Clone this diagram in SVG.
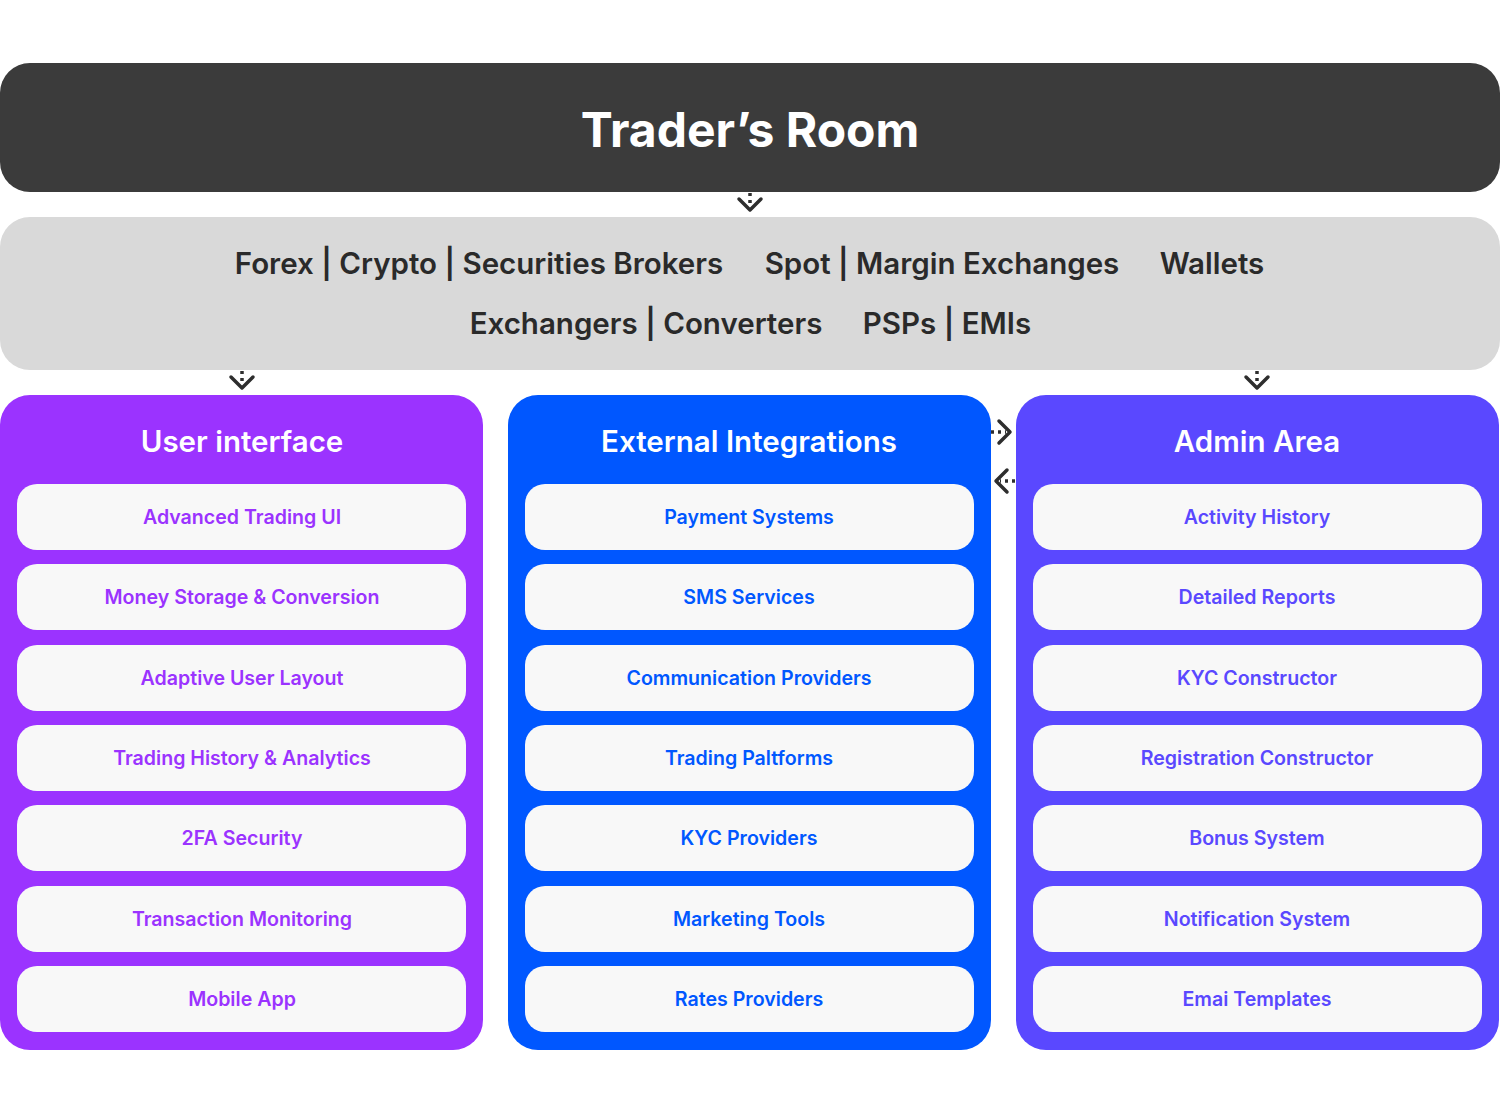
<svg xmlns="http://www.w3.org/2000/svg" width="1500" height="1114" viewBox="0 0 1500 1114">
<style>
.t{font-family:Inter,"Liberation Sans",sans-serif;text-anchor:middle}
.title{font-size:48px;font-weight:700;fill:#fff}
.cat{font-size:29.5px;font-weight:600;fill:#2a2a2a}
.head{font-size:29.5px;font-weight:600;fill:#fff}
.item{font-size:19.6px;font-weight:600}
.box{fill:#f8f8f8}
.pu{fill:#9b33ff}.bl{fill:#0057ff}.ad{fill:#5a48ff}
.ar{fill:none;stroke:#2e2e2e;stroke-width:3.5;stroke-linecap:round;stroke-linejoin:round}
.dl{fill:none;stroke:#2e2e2e;stroke-width:3.5;stroke-dasharray:3 4}
</style>
<rect width="1500" height="1114" fill="#fff"/>
<g id="traders-room">
<rect x="0" y="63" width="1500" height="129" rx="30" fill="#3b3b3b"/>
<text class="t title" x="750" y="147">Trader’s Room</text>
</g>
<g id="categories">
<rect x="0" y="217" width="1500" height="153" rx="30" fill="#d9d9d9"/>
<text class="t cat" x="479" y="274">Forex | Crypto | Securities Brokers</text>
<text class="t cat" x="942" y="274">Spot | Margin Exchanges</text>
<text class="t cat" x="1212" y="274">Wallets</text>
<text class="t cat" x="646" y="334">Exchangers | Converters</text>
<text class="t cat" x="947" y="334">PSPs | EMIs</text>
</g>
<g id="connectors">
<line class="dl" x1="750" y1="193" x2="750" y2="206"/>
<polyline class="ar" points="739,199 750,210 761,199"/>
<line class="dl" x1="242" y1="371" x2="242" y2="384"/>
<polyline class="ar" points="231,377 242,388 253,377"/>
<line class="dl" x1="1257" y1="371" x2="1257" y2="384"/>
<polyline class="ar" points="1246,377 1257,388 1268,377"/>
<line class="dl" x1="991" y1="432" x2="1006" y2="432"/>
<polyline class="ar" points="999,421 1010,432 999,443"/>
<line class="dl" x1="1015" y1="481" x2="1000" y2="481"/>
<polyline class="ar" points="1007,470 996,481 1007,492"/>
</g>
<g id="user-interface">
<rect class="pu" x="0" y="395" width="483" height="655" rx="30"/>
<text class="t head" x="242" y="452">User interface</text>
<g class="pu">
<rect class="box" x="17" y="484" width="449" height="66" rx="20"/>
<rect class="box" x="17" y="564" width="449" height="66" rx="20"/>
<rect class="box" x="17" y="645" width="449" height="66" rx="20"/>
<rect class="box" x="17" y="725" width="449" height="66" rx="20"/>
<rect class="box" x="17" y="805" width="449" height="66" rx="20"/>
<rect class="box" x="17" y="886" width="449" height="66" rx="20"/>
<rect class="box" x="17" y="966" width="449" height="66" rx="20"/>
<text class="t item" x="242" y="524">Advanced Trading UI</text>
<text class="t item" x="242" y="604">Money Storage &amp; Conversion</text>
<text class="t item" x="242" y="685">Adaptive User Layout</text>
<text class="t item" x="242" y="765">Trading History &amp; Analytics</text>
<text class="t item" x="242" y="845">2FA Security</text>
<text class="t item" x="242" y="926">Transaction Monitoring</text>
<text class="t item" x="242" y="1006">Mobile App</text>
</g>
</g>
<g id="external-integrations">
<rect class="bl" x="508" y="395" width="483" height="655" rx="30"/>
<text class="t head" x="749" y="452">External Integrations</text>
<g class="bl">
<rect class="box" x="525" y="484" width="449" height="66" rx="20"/>
<rect class="box" x="525" y="564" width="449" height="66" rx="20"/>
<rect class="box" x="525" y="645" width="449" height="66" rx="20"/>
<rect class="box" x="525" y="725" width="449" height="66" rx="20"/>
<rect class="box" x="525" y="805" width="449" height="66" rx="20"/>
<rect class="box" x="525" y="886" width="449" height="66" rx="20"/>
<rect class="box" x="525" y="966" width="449" height="66" rx="20"/>
<text class="t item" x="749" y="524">Payment Systems</text>
<text class="t item" x="749" y="604">SMS Services</text>
<text class="t item" x="749" y="685">Communication Providers</text>
<text class="t item" x="749" y="765">Trading Paltforms</text>
<text class="t item" x="749" y="845">KYC Providers</text>
<text class="t item" x="749" y="926">Marketing Tools</text>
<text class="t item" x="749" y="1006">Rates Providers</text>
</g>
</g>
<g id="admin-area">
<rect class="ad" x="1016" y="395" width="483" height="655" rx="30"/>
<text class="t head" x="1257" y="452">Admin Area</text>
<g class="ad">
<rect class="box" x="1033" y="484" width="449" height="66" rx="20"/>
<rect class="box" x="1033" y="564" width="449" height="66" rx="20"/>
<rect class="box" x="1033" y="645" width="449" height="66" rx="20"/>
<rect class="box" x="1033" y="725" width="449" height="66" rx="20"/>
<rect class="box" x="1033" y="805" width="449" height="66" rx="20"/>
<rect class="box" x="1033" y="886" width="449" height="66" rx="20"/>
<rect class="box" x="1033" y="966" width="449" height="66" rx="20"/>
<text class="t item" x="1257" y="524">Activity History</text>
<text class="t item" x="1257" y="604">Detailed Reports</text>
<text class="t item" x="1257" y="685">KYC Constructor</text>
<text class="t item" x="1257" y="765">Registration Constructor</text>
<text class="t item" x="1257" y="845">Bonus System</text>
<text class="t item" x="1257" y="926">Notification System</text>
<text class="t item" x="1257" y="1006">Emai Templates</text>
</g>
</g>
</svg>
